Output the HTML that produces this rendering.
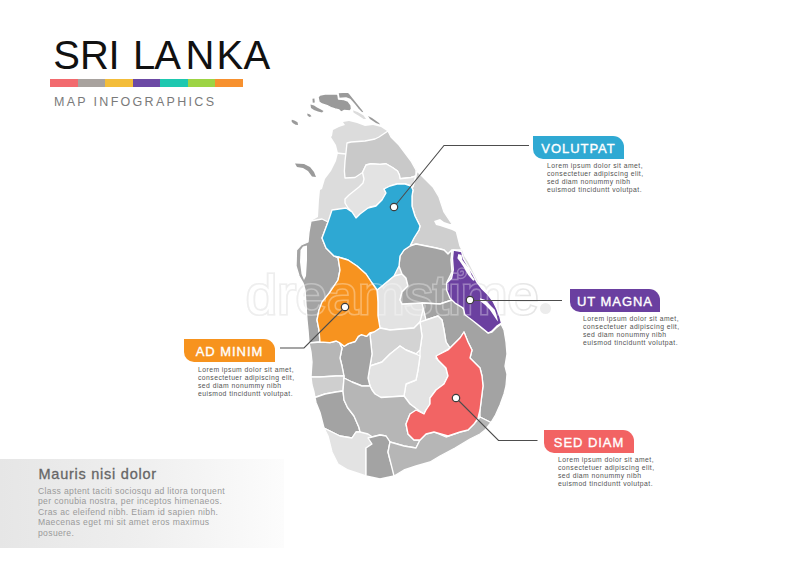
<!DOCTYPE html>
<html><head><meta charset="utf-8">
<style>
html,body{margin:0;padding:0;background:#fff;}
body{width:800px;height:572px;position:relative;overflow:hidden;font-family:"Liberation Sans",sans-serif;}
.abs{position:absolute;white-space:nowrap;}
#title{position:absolute;left:0;top:29px;font-size:40px;color:#111;line-height:52px;}
#title span{position:absolute;top:0;white-space:nowrap;}
#bar{left:50px;top:79px;height:8px;width:193px;display:flex;}
#bar div{flex:1;height:8px;}
#sub{left:54px;top:94px;font-size:12.5px;color:#7a7a7a;line-height:16px;letter-spacing:2.3px;}
.lab{position:absolute;height:23px;color:#fff;font-size:13px;line-height:25px;border-radius:0 11px 0 10px;box-sizing:border-box;text-align:center;white-space:nowrap;letter-spacing:0.95px;-webkit-text-stroke:0.35px #fff;}
.body{position:absolute;font-size:6.8px;line-height:8.1px;margin-top:1px;color:#535353;white-space:nowrap;letter-spacing:0.45px;}
#gbox{left:0;top:459px;width:284px;height:89px;background:linear-gradient(to right,#e6e6e6 0%,#efefef 50%,#fcfcfc 100%);}
#mh{left:38.5px;top:465px;font-size:14.5px;color:#666;line-height:18px;letter-spacing:0.75px;-webkit-text-stroke:0.3px #666;}
#mb{left:38px;top:486px;font-size:8.6px;color:#9a9a9a;line-height:10.4px;white-space:nowrap;letter-spacing:0.34px;}
svg{position:absolute;left:0;top:0;}
</style></head><body>
<div class="abs" id="gbox"></div>
<div id="title"><span style="left:53.2px">S</span><span style="left:80.0px">R</span><span style="left:108.5px">I</span><span style="left:133.0px">L</span><span style="left:154.2px">A</span><span style="left:185.5px">N</span><span style="left:216.6px">K</span><span style="left:243.4px">A</span></div>
<div class="abs" id="bar"><div style="background:#f26a6e"></div><div style="background:#a8a29e"></div><div style="background:#f3bd3a"></div><div style="background:#6c4aa5"></div><div style="background:#1ec8b0"></div><div style="background:#9dd444"></div><div style="background:#f7912f"></div></div>
<div class="abs" id="sub">MAP INFOGRAPHICS</div>

<svg width="800" height="572" viewBox="0 0 800 572" id="map">
<defs><mask id="wm" maskUnits="userSpaceOnUse" x="0" y="0" width="800" height="572"><text x="246" y="314" font-family="Liberation Sans" font-size="56" fill="#fff" stroke="#fff" stroke-width="3.2">dreamstime</text><path d="M462,272.5 m-1.5,0 a1.5,1.5 0 1,1 3,0 a3,3 0 1,1 -6,0 a4.5,4.5 0 1,1 9,0 a6,6 0 1,1 -12,0" fill="none" stroke="#fff" stroke-width="1.4"/><text x="246" y="314" font-family="Liberation Sans" font-size="56" fill="#000" stroke="none">dreamstime</text><path d="M462,272.5 m-1.5,0 a1.5,1.5 0 1,1 3,0 a3,3 0 1,1 -6,0 a4.5,4.5 0 1,1 9,0 a6,6 0 1,1 -12,0" fill="none" stroke="none"/></mask></defs>
<rect x="0" y="0" width="800" height="572" fill="#e6e6e6" mask="url(#wm)"/>
<circle cx="545.5" cy="308.5" r="5.5" fill="#ececec"/>
<g stroke="#fff" stroke-width="1.35" stroke-linejoin="round">
<polygon fill="#dcdcdc" stroke="none" points="332,136 333,130 339,127 345,125 343,122 349,121 357,123 365,126 373,125 381,127 387,131 391,137 399,145 405,153 411,161 417,171 425,179 433,187 439,197 444,212 452,224 456,230 458,238 460,246 462,250 464,256 468,262 472,270 476,278 480,286 486,294 492,302 496,310 500,318 501,324 504,330 506,342 507,354 505,366 507,374 506,386 504,394 500,405 495.5,415 491,422.5 485,430 480,434 470,439 455,448 440,456 430,462 416,466 404,470 394,476 380,479 366,476 360,474 348,470 338,464 332,452 328,436 324,428 320,412 316,402 314,392 311,380 312,362 311,352 309,342 308,330 307,320 306,305 305,290 303,283 299,276 296,266 296.5,250 301,245 308,242 309,232 311,221 318,217 319,200 320,190 322,189 325,179 331,171 336,161 338,153 336,145 331,137"/>
<polygon fill="#c9c9c9" points="347,143 351,142 365,141 375,139 379,137 385,133 388,131 391,137 399,145 405,153 411,161 416,170 416,176 411,177.5 400,178.75 399.4,175 397.5,171 392.5,167.5 386,163.75 380,164.4 371,163.75 366,165 362.5,172.5 355,177.5 345,178 344.4,171 345,161 346,152.5"/>
<polygon fill="#e3e3e3" points="362.5,172.5 366,165 371,163.75 380,164.4 386,163.75 392.5,167.5 397.5,171 399.4,175 400,178.75 411,177.5 416,176 413,187 405,183.75 397.5,183.75 390,186.25 384,189 386,193 382,200 376,206 370,207 364,212 360,218 356,218 352,212 348,208 345,203 345,199 349,195 354,191 359,187 363,183 364,179"/>
<polygon fill="#cfcfcf" points="416,176 417,171 425,179 433,187 439,197 444,212 452,224 456,230 458,238 460,246 462,250 452,250 448,254 444,250 436,248 426,246 416,244 410,246 414,238 419,230 420,226 415,216 412,206 412,196 413,190 411,186 413,187"/>
<polygon fill="#a3a3a3" points="311,221 322,219 328,222 322,238 326,248 334,256 338,258 340,270 338,280 330,292 324,302 319,310 317,320 319,330 320,342 309,343 308,330 307,320 306,305 305,290 303,283 299,276 296,266 296.5,250 301,245 308,242 309,232"/>
<polygon fill="#e3e3e3" points="377,290 382,286 394,276 402,274 406,278 408,286 402,292 400,300 402,304 422,303 424,306 422,314 420,322 414,328 390,330 380,328 378,316 378,302"/>
<polygon fill="#a3a3a3" points="404,250 410,246 416,244 426,246 436,248 444,250 448,254 452,250 451,260 452,272 449,278 447,282 448,292 452,300 440,304 422,303 402,304 400,300 402,292 408,286 406,278 402,274 399,266 400,256"/>
<polygon fill="#a3a3a3" points="422,303 440,304 452,300 460,304 464,310 468,316 476,322 482,328 488,333 492,332 496,328 501,324 504,330 506,342 507,354 505,366 507,374 506,386 504,394 500,405 495.5,415 491,422.5 480,417 480,410 481,402 482,394 483,386 482,376 480,368 476,364 470,358 472,350 468,342 464,332 460,338 454,344 450,348 446,342 444,330 442,320 438,316 426,320"/>
<polygon fill="#e3e3e3" points="426,320 438,316 442,320 444,330 446,342 450,348 440,354 436,358 442,364 446,368 448,376 444,384 436,390 430,398 430,404 426,410 424,414 418,410 410,404 404,396 406,384 416,380 418,370 420,356 420,350 422,336 420,322"/>
<polygon fill="#d3d3d3" points="370,334 380,328 390,330 414,328 420,322 422,336 420,350 416,354 406,350 400,346 390,354 382,362 370,366 372,354"/>
<polygon fill="#e3e3e3" points="370,366 382,362 390,354 400,346 406,350 416,354 420,356 418,370 416,380 406,384 404,396 381,397.5 375,394 372,390 370,386 368,378"/>
<polygon fill="#a3a3a3" points="339.4,342.6 344.2,346.3 348.4,343.6 355.2,341.5 358.3,336.3 361.5,334.7 366.7,336.3 369.8,333 372,354 370,366 368,378 370,386 362,386 352,382 344,378 342,366 340,358 342,348"/>
<polygon fill="#b6b6b6" points="309,343 320,342 330,342.6 336.3,341 339.4,342.6 342,348 340,358 342,366 344,376 336,376 320,377 311,377 312,362 311,352"/>
<polygon fill="#cfcfcf" points="311,377 320,377 336,376 344,376 343,391 336,392 325,394 315,397.5 314,392 312,385"/>
<polygon fill="#a3a3a3" points="315,397.5 325,394 336,392 343,391 344,400 347.5,407.5 354,416 359,427.5 360,432 356,432 352,438 340,436 324,428 320,412.5 316,402.5"/>
<polygon fill="#b6b6b6" points="344,378 352,382 362,386 370,386 372,390 375,394 381,397.5 404,396 410,404 418,410 410,414 406,424 408,434 414,440 420,440 416,448 404,446 390,442 386,436 380,435 368,438 360,432 359,427.5 354,416 347.5,407.5 344,400 343,391"/>
<polygon fill="#e3e3e3" points="324,428 340,436 352,438 356,432 360,432 368,434 374,438 372,444 366,448 366,460 366,476 360,474 348,470 338,464 332,452 328,436"/>
<polygon fill="#a3a3a3" points="368,438 380,435 386,436 390,442 388,452 390,460 394,472 394,476 380,479 366,476 366,460 366,448 372,444"/>
<polygon fill="#b6b6b6" points="390,442 404,446 416,448 420,440 426,434 434,432 446,437 460,432 468,430 474,424 480,417 491,422.5 485,430 480,434 470,439 455,448 440,456 430,462 416,466 404,470 394,476 390,460 388,452"/>
<polygon fill="#9a9a9a" points="318,97 320,95 325,94 337,94 338,95 338.5,99 344,99.5 348,101 351,105 351.5,109 350,111 344,110.5 341,112 339,110 335,109 332,108 328,106 322,104 319,102"/>
<polygon fill="#9a9a9a" points="338,92.5 348,92 350,94 354,99 358,104 362,109 364,112 362,113 358,109 354,104 350,99.5 346,98 339,98.5"/>
<polygon fill="#dcdcdc" points="352,109 357,111 364,115 367,119 364,120 358,116 353,113"/>
<polygon fill="#9a9a9a" stroke="none" points="368,116 372,118 379,123 380,124.5 376,123 370,119"/>
<polygon fill="#9a9a9a" stroke="none" points="312.5,98.75 314.4,98.5 314.75,102.5 312.75,102.75"/>
<polygon fill="#9a9a9a" stroke="none" points="310.5,104.5 314,105.5 317,107.5 320,109 323.5,111 322,112.5 318,111.5 314,110 311,108"/>
<polygon fill="#9a9a9a" stroke="none" points="307.25,113.5 310,114.4 311.5,116.25 309.4,116.9 307.5,115.6"/>
<polygon fill="#9a9a9a" stroke="none" points="291.9,119.75 294.4,120.6 297.5,122.25 298.1,125 295.6,124.75 292.75,123.1 291.5,121.25"/>
<polygon fill="#9a9a9a" stroke="none" points="295,163.5 304,164 310,167 314,172 316,177 312,176.5 308,171 303,168 297,167"/>
<polygon fill="#2ea8d3" points="328,222 332,210 346,208 352,212 356,218 360,214 368,208 376,206 382,200 386,193 384,189 390,186 397,184 405,184 411,186 413,190 412,196 412,206 415,216 420,226 419,230 414,238 410,246 404,250 400,256 399,266 394,276 382,286 377,290 372,283 366,274 357,266 348,260 338,257 334,256 326,248 322,238"/>
<polygon fill="#f7931f" points="338,257 348,260 357,266 366,274 372,283 377,290 378,302 378,316 380,328 374,332 369.8,333 366.7,336.3 361.5,334.7 358.3,336.3 355.2,341.5 348.4,343.6 344.2,346.3 339.4,342.6 336.3,341 330,342.6 320,342 319,330 317,320 319,310 322,302 330,292 338,280 340,270"/>
<polygon fill="#6b40a0" points="453.3,250 461.6,251.6 463.3,258.3 468.2,266.6 473.2,274.9 476.5,281.5 481.5,288.2 488.2,294.8 493.2,301.5 496.5,308.1 499.8,316.4 501.5,323 496.5,326.4 491.5,331.4 488.2,333 479.9,326.4 471.6,319.8 464.9,314.8 463.3,308.1 455,303.1 450,298.2 446.6,289.9 446.6,283.2 451.6,278.2 453.3,269.9 452.5,258.3"/>
<polygon fill="#f26464" points="464,332 468,342 472,350 470,358 476,364 480,368 482,376 483,386 482,394 481,402 480,410 478,418 474,424 468,430 460,432 448,436 434,432 426,434 420,440 414,440 408,434 406,424 410,414 416,410 424,414 426,410 430,404 430,398 436,390 444,384 448,376 446,368 442,364 438,360 436,356 440,354 448,350 454,344 460,338"/>
<polygon fill="#fff" stroke="none" points="303,246.5 307,245.5 307,260 306,276 304,280 301.5,274 300,262 300.5,250"/>
<polyline fill="none" points="336.5,153 341,153.5 346,154"/>
<polygon fill="#fff" stroke="none" points="458.3,254.1 461.6,255 462.4,260 464.9,263.3 469.1,268.3 471.6,274.9 474.9,279.9 473.2,280.7 468.2,274.9 463.3,266.6 459.9,261.6 457.4,258.3"/>
<polygon fill="#fff" stroke="none" points="479.9,298.2 484.9,299.8 488.2,303.1 491.5,306.5 494.8,309.8 496.5,314.8 498.1,321.4 496.5,319.8 493.2,314.8 489.8,309.8 484.9,304.8 480.7,301.5"/>
<polygon fill="#fff" stroke="none" points="434,221 440,219 444,222 450,224 454,224 457,228 456,232 452,230 446,228 440,226 436,225"/>
</g>
<rect x="240" y="240" width="280" height="100" fill="#fff" opacity="0.32" mask="url(#wm)"/>
<g fill="none" stroke="#4d4d4d" stroke-width="1.1">
<polyline points="394,207 444,145.5 529,145.5"/>
<polyline points="470,300.5 562,300.5"/>
<polyline points="345,307 304,348 280,348"/>
<polyline points="456,398 498.5,440.5 537.5,440.5"/>
</g>
<g fill="#fff" stroke="#3d3d3d" stroke-width="1.2">
<circle cx="394" cy="207" r="3.7"/>
<circle cx="345" cy="307" r="3.7"/>
<circle cx="470" cy="300" r="3.7"/>
<circle cx="456" cy="398" r="3.7"/>
</g>
</svg>

<div class="lab" style="left:533px;top:135.5px;width:91px;background:#2fa9d3;">VOLUTPAT</div>
<div class="body" style="left:547px;top:161px;">Lorem ipsum dolor sit amet,<br>consectetuer adipiscing elit,<br>sed diam nonummy nibh<br>euismod tinciduntt volutpat.</div>

<div class="lab" style="left:570px;top:289px;width:90px;background:#6a3fa0;">UT MAGNA</div>
<div class="body" style="left:583px;top:314px;">Lorem ipsum dolor sit amet,<br>consectetuer adipiscing elit,<br>sed diam nonummy nibh<br>euismod tinciduntt volutpat.</div>

<div class="lab" style="left:184px;top:339px;width:91px;background:#f7931e;">AD MINIM</div>
<div class="body" style="left:198px;top:365px;">Lorem ipsum dolor sit amet,<br>consectetuer adipiscing elit,<br>sed diam nonummy nibh<br>euismod tinciduntt volutpat.</div>

<div class="lab" style="left:544px;top:430px;width:90px;background:#f26363;">SED DIAM</div>
<div class="body" style="left:558px;top:455px;">Lorem ipsum dolor sit amet,<br>consectetuer adipiscing elit,<br>sed diam nonummy nibh<br>euismod tinciduntt volutpat.</div>

<div class="abs" id="mh">Mauris nisi dolor</div>
<div class="abs" id="mb">Class aptent taciti sociosqu ad litora torquent<br>per conubia nostra, per inceptos himenaeos.<br>Cras ac eleifend nibh. Etiam id sapien nibh.<br>Maecenas eget mi sit amet eros maximus<br>posuere.</div>
</body></html>
